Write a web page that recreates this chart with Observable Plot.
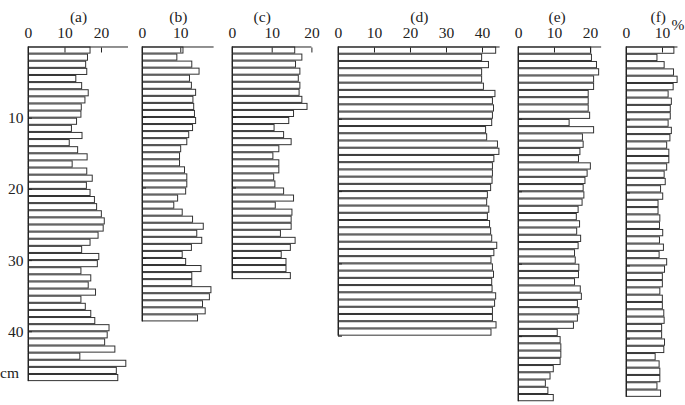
<!DOCTYPE html>
<html>
<head>
<meta charset="utf-8">
<script src="https://cdn.jsdelivr.net/npm/d3@7"></script>
<script src="https://cdn.jsdelivr.net/npm/@observablehq/plot@0.6"></script>
<style>
  html, body { margin: 0; padding: 0; background: #fff; }
  #chart { position: relative; width: 685px; height: 405px; overflow: hidden; }
  #chart svg { position: absolute; top: 0; overflow: visible; }
</style>
</head>
<body>
<div id="chart"></div>
<script>
// ---- data: values (%) per 1-cm depth layer, from the top (0 cm) downward ----
const panelLabels = ["(a)", "(b)", "(c)", "(d)", "(e)", "(f)"];

const valuesA = [17.0,16.3,15.8,16.1,13.1,14.7,16.5,15.6,14.6,14.5,
                 13.3,11.9,14.8,11.3,13.6,16.2,12.1,16.1,17.6,16.0,
                 17.0,18.2,18.8,20.1,20.9,20.6,19.2,17.0,14.7,19.4,
                 19.0,14.5,17.2,16.5,18.5,14.5,15.7,17.2,18.3,22.2,
                 21.7,21.0,23.8,14.2,26.8,24.2,24.6];
const valuesB = [10.7,9.1,13.0,14.9,12.4,12.9,14.0,13.3,13.5,13.7,
                 14.0,13.2,12.2,11.7,10.1,9.8,9.8,11.1,11.7,11.7,
                 11.4,9.3,8.3,10.5,13.2,16.0,14.3,15.6,12.9,10.5,
                 11.4,15.4,13.0,13.0,18.0,17.6,15.8,16.5,14.5];
const valuesC = [15.8,17.6,16.0,17.1,16.7,17.1,16.9,17.6,18.9,15.5,
                 14.3,10.6,13.0,14.9,11.8,10.3,11.8,11.8,10.5,10.8,
                 13.0,15.5,10.9,15.1,14.9,14.9,12.2,15.9,14.7,12.4,
                 13.6,13.6,14.7];
const valuesD = [43.8,39.9,41.8,39.9,39.9,40.4,43.6,42.9,43.2,42.9,
                 42.7,41.0,41.3,44.3,44.7,43.3,42.9,42.9,42.8,42.4,
                 41.5,41.3,41.9,41.5,42.1,42.4,42.7,44.1,43.3,42.5,
                 42.9,43.2,42.7,42.8,43.8,43.5,42.9,42.9,43.9,42.5];
const valuesE = [20.2,20.4,21.8,22.4,21.0,21.0,19.5,19.5,19.5,19.9,
                 14.2,21.0,17.9,18.1,17.2,16.8,20.1,19.2,18.6,18.1,
                 18.3,17.8,16.7,16.2,17.1,16.3,17.4,16.7,15.7,15.9,
                 16.9,16.8,15.7,17.3,17.6,16.5,16.9,16.5,15.4,10.9,
                 11.7,11.9,11.9,11.7,9.8,8.9,7.6,8.3,9.8];
const valuesF = [13.3,8.6,10.6,13.2,14.2,13.1,11.7,12.6,12.3,12.3,
                 11.7,12.6,12.2,11.3,11.9,11.9,11.3,10.6,10.9,9.6,
                 10.2,8.9,8.9,9.4,9.3,10.2,9.3,10.4,9.2,11.3,
                 10.7,10.1,10.1,9.4,10.1,10.1,10.5,10.6,9.9,9.9,
                 10.7,10.5,8.1,9.2,9.4,9.4,8.6,9.6];

const xTicksA = [0, 10, 20];
const xTicksB = [0, 10];
const xTicksC = [0, 10, 20];
const xTicksD = [0, 10, 20, 30, 40];
const xTicksE = [0, 10, 20];
const xTicksF = [0, 10];
const depthTicks = [10, 20, 30, 40];
const depthUnit = "cm";
const valueUnit = "%";

// ---- layout (positions / sizes only) ----
const layout = [
  {values: valuesA, xticks: xTicksA, xmax: 27.4, ppu: 3.65, x0: 28.0,  k: 7.12, ldx: 0,  ylabels: true},
  {values: valuesB, xticks: xTicksB, xmax: 18.7, ppu: 3.83, x0: 141.7, k: 7.05, ldx: 0},
  {values: valuesC, xticks: xTicksC, xmax: 20.0, ppu: 3.97, x0: 232.3, k: 7.05, ldx: -10},
  {values: valuesD, xticks: xTicksD, xmax: 44.9, ppu: 3.60, x0: 338.3, k: 7.23, ldx: 0},
  {values: valuesE, xticks: xTicksE, xmax: 23.1, ppu: 3.60, x0: 518.3, k: 7.24, ldx: -3},
  {values: valuesF, xticks: xTicksF, xmax: 14.3, ppu: 3.60, x0: 625.7, k: 7.30, ldx: 6, unit: true}
];

const marginTop = 46.5, marginLeft = 28, marginRight = 14, marginBottom = 6;
const font = "'Liberation Serif', 'DejaVu Serif', serif";
const fs = 15.5;
const ink = "#222";
const container = document.getElementById("chart");

layout.forEach((p, idx) => {
  const n = p.values.length;
  const rows = p.values.map((v, i) => ({top: i, bottom: i + 1, v}));
  const yt = depthTicks.filter(t => t < n + 0.5);
  const width = marginLeft + p.xmax * p.ppu + marginRight;
  const height = marginTop + n * p.k + marginBottom;
  const marks = [
    Plot.rect(rows, {x1: 0, x2: "v", y1: "top", y2: "bottom", fill: "white", stroke: "#333", strokeWidth: 1, insetTop: 0.5, insetBottom: 0.5}),
    Plot.ruleY([0], {stroke: ink, strokeWidth: 1}),
    Plot.ruleX([0], {stroke: ink, strokeWidth: 1}),
    Plot.axisX({anchor: "top", ticks: p.xticks, tickSize: -5, tickPadding: 14, label: null, tickFormat: d => String(d), fontSize: fs, fontFamily: font, stroke: ink}),
    Plot.axisY({anchor: "left", ticks: yt, tickSize: -4, tickPadding: 9, label: null, tickFormat: p.ylabels ? (d => String(d)) : (() => ""), fontSize: fs, fontFamily: font, stroke: ink}),
    Plot.text([panelLabels[idx]], {text: d => d, frameAnchor: "top", dy: -36.5, dx: p.ldx, fontSize: fs, fontFamily: font, fill: ink})
  ];
  if (p.ylabels) {
    marks.push(Plot.text([depthUnit], {text: d => d, frameAnchor: "bottom-left", dx: -19, dy: -4, textAnchor: "middle", fontSize: fs, fontFamily: font, fill: ink}));
  }
  if (p.unit) {
    marks.push(Plot.text([valueUnit], {text: d => d, frameAnchor: "top-right", dx: 0, dy: -28.5, textAnchor: "middle", fontSize: fs, fontFamily: font, fill: ink}));
  }
  const svg = Plot.plot({
    width, height, marginTop, marginLeft, marginRight, marginBottom,
    x: {domain: [0, p.xmax], range: [marginLeft, marginLeft + p.xmax * p.ppu], axis: null, label: null},
    y: {domain: [0, n], range: [marginTop, marginTop + n * p.k], axis: null, label: null},
    style: {fontFamily: font, fontSize: fs + "px", color: ink, background: "transparent"},
    marks
  });
  svg.style.left = (p.x0 - marginLeft) + "px";
  container.appendChild(svg);
});
</script>
</body>
</html>
